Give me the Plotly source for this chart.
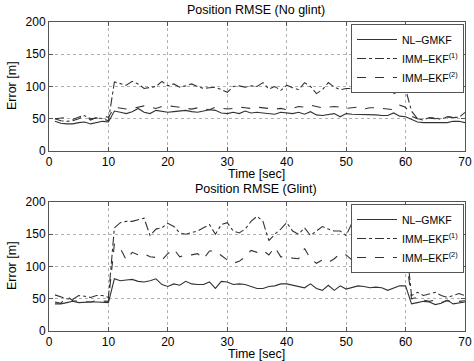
import plotly.graph_objects as go

t = list(range(1, 71))

top_nl = [46,43,42,42,44,45,42,44,46,45,
          62,60,58,61,66,60,58,63,61,60,
          61,62,63,61,60,62,64,63,59,58,
          60,58,62,59,60,59,58,57,60,59,
          58,60,57,61,56,55,57,58,53,58,
          57,57,56,56,56,55,55,59,54,53,
          49,45,44,44,45,45,44,46,46,44]
top_imm1 = [50,47,46,47,50,55,48,52,50,47,
            107,104,102,108,104,97,99,100,108,101,
            104,99,101,104,100,97,98,99,95,91,
            100,101,99,101,100,106,96,100,94,102,
            98,95,106,100,89,95,106,99,95,97,
            97,99,96,97,95,94,95,89,93,96,
            62,50,48,52,51,49,53,52,52,60]
top_imm2 = [50,51,52,49,53,56,50,51,55,52,
            68,67,65,66,68,70,68,66,69,70,
            69,68,66,65,67,66,64,68,66,65,
            66,68,67,66,68,67,66,65,66,64,
            66,69,68,71,69,67,68,69,68,66,
            67,68,65,67,67,66,65,64,71,68,
            54,50,49,51,50,52,53,52,51,50]

bot_nl = [42,42,44,46,44,45,45,45,45,44,
          81,78,79,80,77,76,78,81,72,69,
          73,71,77,73,72,72,76,66,77,76,
          72,73,72,69,66,66,69,70,73,73,
          71,68,67,73,66,63,71,63,70,65,
          68,70,69,67,68,67,63,66,70,70,
          42,44,46,45,41,43,48,42,44,45]
bot_imm1 = [56,53,50,49,55,54,52,55,55,52,
            160,168,170,170,172,175,148,158,160,167,
            162,152,150,152,155,160,165,150,165,168,
            155,152,158,170,178,170,140,150,158,168,
            155,150,160,148,155,162,158,155,155,148,
            168,155,160,158,150,155,152,148,150,145,
            55,60,55,58,60,55,52,55,58,55]
bot_imm2 = [45,43,54,47,46,46,45,47,47,46,
            135,128,110,122,118,120,115,114,110,120,
            127,115,118,118,120,112,124,124,117,110,
            105,108,115,125,122,125,118,130,115,115,
            113,112,128,112,105,110,106,112,120,118,
            110,112,120,120,118,115,112,118,116,120,
            50,52,48,46,48,44,47,45,46,47]

names = ["NL\u2013GMKF", "IMM\u2013EKF<sup>(1)</sup>", "IMM\u2013EKF<sup>(2)</sup>"]
dashes = ["solid", "dashdot", "dash"]
color = "#333333"

fig = go.Figure()
for i, ys in enumerate([top_nl, top_imm1, top_imm2]):
    fig.add_trace(go.Scatter(x=t, y=ys, mode="lines", name=names[i],
                             line=dict(color=color, width=1.1, dash=dashes[i]),
                             xaxis="x", yaxis="y", legend="legend"))
for i, ys in enumerate([bot_nl, bot_imm1, bot_imm2]):
    fig.add_trace(go.Scatter(x=t, y=ys, mode="lines", name=names[i],
                             line=dict(color=color, width=1.1, dash=dashes[i]),
                             xaxis="x2", yaxis="y2", legend="legend2"))

ax_common = dict(showline=True, linecolor="#555555", linewidth=1, mirror="allticks",
                 ticks="inside", ticklen=4, tickcolor="#555555",
                 showgrid=True, gridcolor="#b0b0b0", griddash="dot", gridwidth=1,
                 zeroline=False, automargin=False,
                 tickfont=dict(size=12, color="black", family="Liberation Sans"))

xt = dict(range=[0, 70], tickvals=[0,10,20,30,40,50,60,70], **ax_common)
yt = dict(range=[0, 200], tickvals=[0,50,100,150,200], **ax_common)

W, H = 474, 361
pl, pr, pt, pb = 49, 9, 22, 30
pw, ph = W - pl - pr, H - pt - pb
def px(x): return (x - pl) / pw
def py(y): return 1 - (y - pt) / ph

font_t = dict(size=12.5, color="black", family="Liberation Sans")
leg_font = dict(size=10.5, color="black", family="Liberation Sans")
fig.update_layout(
    width=W, height=H,
    margin=dict(l=pl, r=pr, t=pt, b=pb),
    paper_bgcolor="white", plot_bgcolor="white",
    xaxis=dict(domain=[0, 1], anchor="y", **xt),
    yaxis=dict(domain=[py(151), 1], anchor="x", **yt),
    xaxis2=dict(domain=[0, 1], anchor="y2", **xt),
    yaxis2=dict(domain=[0, py(202)], anchor="x2", **yt),
    legend=dict(x=px(464), y=py(24), xanchor="right", yanchor="top",
                bordercolor="#555555", borderwidth=1, bgcolor="white",
                font=leg_font, tracegroupgap=0, itemwidth=40),
    legend2=dict(x=px(464), y=py(204), xanchor="right", yanchor="top",
                 bordercolor="#555555", borderwidth=1, bgcolor="white",
                 font=leg_font, tracegroupgap=0, itemwidth=40),
    showlegend=True,
)

for txt, x, y, ang in [("Position RMSE (No glint)", 256, 10, 0),
                       ("Position RMSE (Glint)", 256, 189, 0),
                       ("Time [sec]", 256, 174, 0),
                       ("Time [sec]", 256, 354, 0),
                       ("Error [m]", 12, 86, -90),
                       ("Error [m]", 12, 266, -90)]:
    fig.add_annotation(text=txt, x=px(x), y=py(y), xref="paper", yref="paper",
                       showarrow=False, textangle=ang, font=font_t,
                       xanchor="center", yanchor="middle")

fig.write_html("out.html", config={"displayModeBar": False},
               post_script="document.body.style.margin='0';")
